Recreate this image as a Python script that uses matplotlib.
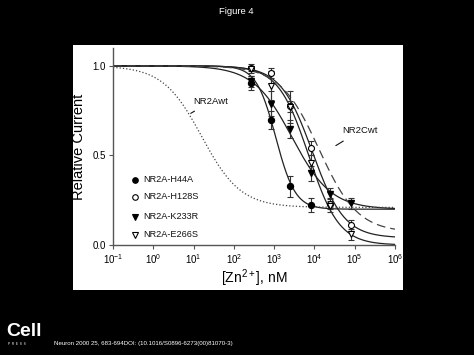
import numpy as np
import matplotlib
matplotlib.use("Agg")
import matplotlib.pyplot as plt

plt.rcParams["font.family"] = ["Liberation Sans", "DejaVu Sans"]
plt.rcParams["mathtext.fontset"] = "custom"
plt.rcParams["mathtext.rm"] = "Liberation Sans"
plt.rcParams["mathtext.it"] = "Liberation Sans:italic"
plt.rcParams["mathtext.bf"] = "Liberation Sans:bold"
plt.rcParams["mathtext.default"] = "regular"

# ---- data ----
conc = [260, 830, 2500, 8300, 25000, 83000]  # nM

h44a = [0.906, 0.70, 0.327, 0.225]
h44a_err = [0.04, 0.05, 0.06, 0.04]
h128s = [0.99, 0.96, 0.775, 0.54, 0.23, 0.11]
h128s_err = [0.02, 0.03, 0.03, 0.04, 0.03, 0.03]
k233r = [0.915, 0.79, 0.647, 0.40, 0.286, 0.233]
k233r_err = [0.03, 0.07, 0.05, 0.04, 0.03, 0.03]
e266s = [0.98, 0.89, 0.77, 0.46, 0.216, 0.06]
e266s_err = [0.02, 0.08, 0.09, 0.04, 0.03, 0.03]

labels = ["NR2A-H44A", "NR2A-H128S", "NR2A-K233R", "NR2A-E266S"]

# Hill fit parameters (IC50 nM, Hill coefficient, residual fraction)
fit_names = ["H44A", "H128S", "K233R", "E266S", "NR2Awt", "NR2Cwt"]
fit_ic50 = [1100, 8900, 2800, 7200, 16, 13000]
fit_nh = [1.8, 1.1, 0.9, 1.15, 0.9, 0.9]
fit_base = [0.2, 0.04, 0.2, 0.0, 0.21, 0.07]

xticks = [1e-1, 1e0, 1e1, 1e2, 1e3, 1e4, 1e5, 1e6]
yticks = [0.0, 0.5, 1.0]


def hill(x, ic, n, b):
    return b + (1 - b) / (1 + (x / ic) ** n)


W, H = 474, 355
fig = plt.figure(figsize=(W / 100, H / 100), dpi=100, facecolor="black")

# white panel
panel = fig.add_axes([73 / W, 1 - 290 / H, (403 - 73) / W, (290 - 45) / H])
panel.set_facecolor("white")
panel.set_xticks([]); panel.set_yticks([])
for s in panel.spines.values():
    s.set_visible(False)

ax = fig.add_axes([113 / W, 1 - 245 / H, (395 - 113) / W, (245 - 48) / H])
ax.set_facecolor("white")
ax.set_xscale("log")
ax.set_xlim(1e-1, 1e6)
ax.set_ylim(0, 1.1)
for side in ["top", "right"]:
    ax.spines[side].set_visible(False)
for side in ["left", "bottom"]:
    ax.spines[side].set_color("#555555")
    ax.spines[side].set_linewidth(1.0)
ax.set_xticks(xticks)
ax.set_xticklabels([r"10$^{%d}$" % int(np.log10(v)) for v in xticks])
ax.xaxis.set_minor_locator(matplotlib.ticker.NullLocator())
ax.set_yticks(yticks)
ax.set_yticklabels(["0.0", "0.5", "1.0"])
ax.tick_params(axis="both", labelsize=7, color="#555555", length=3, direction="out", pad=2)

xx = np.logspace(-1, 6, 400)
styles = ["-", "-", "-", "-", ":", (0, (7, 4))]
for ic, n, b, ls in zip(fit_ic50, fit_nh, fit_base, styles):
    ax.plot(xx, hill(xx, ic, n, b), color="#222222" if ls == "-" else "#444444",
            ls=ls, lw=0.9)

mk = dict(color="black", ecolor="#333333", elinewidth=0.8, capsize=2.2, capthick=0.8,
          ls="none", markersize=4.3, zorder=5)
ax.errorbar(conc[:len(h44a)], h44a, yerr=h44a_err, marker="o", mfc="black", mec="black", **mk)
ax.errorbar(conc, h128s, yerr=h128s_err, marker="o", mfc="white", mec="black", mew=0.8, **mk)
ax.errorbar(conc, k233r, yerr=k233r_err, marker="v", mfc="black", mec="black", **mk)
ax.errorbar(conc, e266s, yerr=e266s_err, marker="v", mfc="white", mec="black", mew=0.8, **mk)

# legend (manual, to match layout)
leg_markers = [("o", "black"), ("o", "white"), ("v", "black"), ("v", "white")]
leg_y = [0.363, 0.27, 0.158, 0.056]
for (m, fc), lab, yv in zip(leg_markers, labels, leg_y):
    ax.plot([0.35], [yv], marker=m, mfc=fc, mec="black", mew=0.8, ms=4.0, ls="none",
            clip_on=False, zorder=6)
    ax.text(0.56, yv, lab, fontsize=6.6, va="center", ha="left", color="#111111")

# curve annotations
ax.annotate("NR2Awt", xy=(8.5, 0.735), xytext=(26, 0.80), fontsize=6.8,
            ha="center", va="center", color="#111111",
            arrowprops=dict(arrowstyle="-", color="#111111", lw=0.8, shrinkA=3, shrinkB=0))
ax.annotate("NR2Cwt", xy=(34000, 0.555), xytext=(1.35e5, 0.637), fontsize=6.8,
            ha="center", va="center", color="#111111",
            arrowprops=dict(arrowstyle="-", color="#111111", lw=0.8, shrinkA=4, shrinkB=0))

ax.set_ylabel("Relative Current", fontsize=10.5, labelpad=5)
ax.set_xlabel(r"[Zn$^{2+}$], nM", fontsize=10, labelpad=1)

# figure decorations
fig.text(236 / W, 1 - 12 / H, "Figure 4", color="white", fontsize=6.8, ha="center", va="center")
fig.text(6 / W, 1 - 331 / H, "Cell", color="white", fontsize=14, fontweight="bold",
         ha="left", va="center")
fig.text(8 / W, 1 - 344 / H, "P  R  E  S  S", color="white", fontsize=2.3, ha="left", va="center")
fig.text(54 / W, 1 - 343 / H, "Neuron 2000 25, 683-694DOI: (10.1016/S0896-6273(00)81070-3)",
         color="white", fontsize=4.4, ha="left", va="center")

fig.savefig("out.png", dpi=100, facecolor="black")
